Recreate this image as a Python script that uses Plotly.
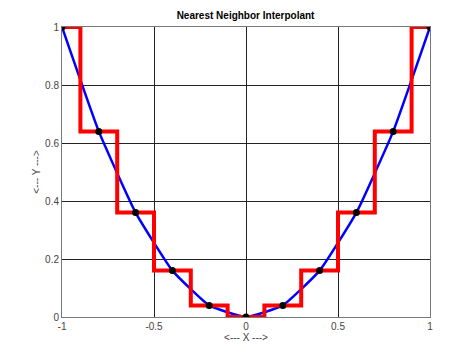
import plotly.graph_objects as go

x_pts = [-1.0, -0.8, -0.6, -0.4, -0.2, 0.0, 0.2, 0.4, 0.6, 0.8, 1.0]
y_pts = [1.0, 0.64, 0.36, 0.16, 0.04, 0.0, 0.04, 0.16, 0.36, 0.64, 1.0]
x_ticks = [-1, -0.5, 0, 0.5, 1]
x_tick_text = ["-1", "-0.5", "0", "0.5", "1"]
y_ticks = [0, 0.2, 0.4, 0.6, 0.8, 1]
y_tick_text = ["0", "0.2", "0.4", "0.6", "0.8", "1"]

fig = go.Figure()
fig.add_trace(go.Scatter(x=x_pts, y=y_pts, mode="lines", line=dict(color="#0000ff", width=2.5, shape="spline", smoothing=0.4), hoverinfo="skip"))
fig.add_trace(go.Scatter(x=x_pts, y=y_pts, mode="lines", line=dict(color="#ff0000", width=4, shape="hvh"), hoverinfo="skip"))
fig.add_trace(go.Scatter(x=x_pts, y=y_pts, mode="markers", marker=dict(color="black", size=7), hoverinfo="skip"))

fig.update_layout(
    width=474, height=355,
    margin=dict(l=62, r=44, t=27, b=38),
    paper_bgcolor="white", plot_bgcolor="white",
    showlegend=False,
    font=dict(family="Liberation Sans, Arial", size=10, color="#444"),
    title=dict(text="<b>Nearest Neighbor Interpolant</b>", x=0.518, xanchor="center", y=0.955, yanchor="middle",
               font=dict(size=10, color="black")),
)
fig.update_xaxes(range=[-1, 1], tickvals=x_ticks, ticktext=x_tick_text, showgrid=True, gridcolor="#222", gridwidth=1,
                 zeroline=False, showline=True, linecolor="#777", linewidth=1, mirror=True, ticks="",
                 title=dict(text="<--- X --->", standoff=1, font=dict(size=10)))
fig.update_yaxes(range=[0, 1], tickvals=y_ticks, ticktext=y_tick_text, showgrid=True, gridcolor="#222", gridwidth=1,
                 zeroline=False, showline=True, linecolor="#777", linewidth=1, mirror=True, ticks="",
                 title=dict(text="<--- Y --->", standoff=2, font=dict(size=10)))

fig.write_html("out.html")
